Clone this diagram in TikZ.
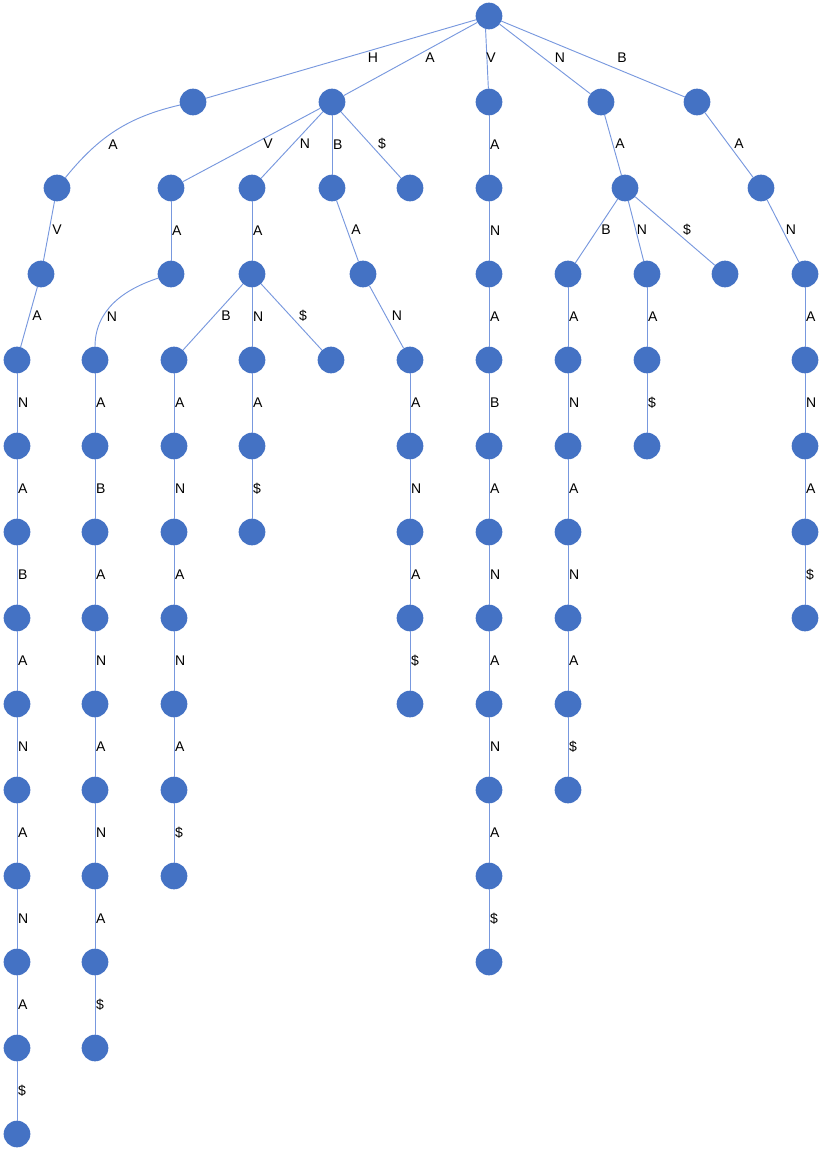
\documentclass[tikz,border=0pt]{standalone}
\usepackage{fontspec}
\newfontfamily\lblfont{Liberation Sans}
\usetikzlibrary{positioning}
\definecolor{vtxblue}{RGB}{68,114,196}
\definecolor{edgeblue}{RGB}{120,152,222}

\begin{document}
\begin{tikzpicture}[x=0.75pt,y=-0.75pt,
   vtx/.style={circle,fill=vtxblue,minimum size=20pt,inner sep=0pt,outer sep=0pt},
   edge/.style={draw=edgeblue,line width=0.7pt},
   lbl/.style={font=\lblfont\fontsize{10.5}{12}\selectfont,inner sep=0.5pt,anchor=west},
   tag/.style={lbl,anchor=center},
   node distance=44.5pt]

 \useasboundingbox (0,0) rectangle (820,1152);

 % root and first letters
 \node[vtx] (root) at (489,16) {};
 \node[vtx] (h) at (193,102) {};
 \node[vtx] (a) at (332,102) {};
 \node[vtx, alias=v0] (v) at (489,102) {};
 \node[vtx] (n) at (601,102) {};
 \node[vtx] (b) at (697,102) {};

 \draw[edge] (root) -- (h) node[tag] at (373,58) {H};
 \draw[edge] (root) -- (a) node[tag] at (430,58) {A};
 \draw[edge] (root.255) -- (v) node[tag] at (491,58) {V};
 \draw[edge] (root) -- (n) node[tag] at (560,58) {N};
 \draw[edge] (root) -- (b) node[tag] at (622,58) {B};

 % H branch
 \node[vtx] (h_a) at (57,188) {};
 \node[vtx] (h_a_v) at (41,274) {};
 \node[vtx, alias=hava0] (h_a_v_a) at (17,360) {};
 \draw[edge] (h) to[out=193,in=51] (h_a) node[tag] at (113,145) {A};
 \draw[edge] (h_a) -- (h_a_v) node[tag] at (57,230) {V};
 \draw[edge] (h_a_v) -- (h_a_v_a) node[tag] at (37,316) {A};

 % A branch
 \node[vtx] (a_v) at (171,188) {};
 \node[vtx, below=of a_v] (a_v_a) {};
 \node[vtx, alias=avan0] (a_v_a_n) at (95,360) {};
 \node[vtx] (a_n) at (252,188) {};
 \node[vtx, below=of a_n] (a_n_a) {};
 \node[vtx, alias=anab0] (a_n_a_b) at (174,360) {};
 \node[vtx, below=of a_n_a, alias=anan0] (a_n_a_n) {};
 \node[vtx] (a_n_a_d) at (331,360) {};
 \node[vtx, below=of a] (a_b) {};
 \node[vtx] (a_b_a) at (363,274) {};
 \node[vtx, alias=aban0] (a_b_a_n) at (410,360) {};
 \node[vtx] (a_d) at (410,188) {};

 \draw[edge] (a) -- (a_v) node[tag] at (268,144) {V};
 \draw[edge] (a) -- (a_n) node[tag] at (305,144) {N};
 \draw[edge] (a) -- node[lbl]{B} (a_b);
 \draw[edge] (a) -- (a_d) node[tag] at (382,144) {\$};
 \draw[edge] (a_v) -- node[lbl]{A} (a_v_a);
 \draw[edge] (a_v_a) to[out=198,in=90] (a_v_a_n) node[tag] at (112,317) {N};
 \draw[edge] (a_n) -- node[lbl]{A} (a_n_a);
 \draw[edge] (a_n_a) -- (a_n_a_b) node[tag] at (226,316) {B};
 \draw[edge] (a_n_a) -- node[lbl]{N} (a_n_a_n);
 \draw[edge] (a_n_a) -- (a_n_a_d) node[tag] at (303,316) {\$};
 \draw[edge] (a_b) -- (a_b_a) node[tag] at (356,230) {A};
 \draw[edge] (a_b_a) -- (a_b_a_n) node[tag] at (397,316) {N};

 % N branch
 \node[vtx] (n_a) at (625,188) {};
 \node[vtx, alias=nab0] (n_a_b) at (568,274) {};
 \node[vtx, alias=nan0] (n_a_n) at (647,274) {};
 \node[vtx] (n_a_d) at (725,274) {};
 \draw[edge] (n) -- (n_a) node[tag] at (620,144) {A};
 \draw[edge] (n_a) -- (n_a_b) node[tag] at (606,230) {B};
 \draw[edge] (n_a) -- (n_a_n) node[tag] at (642,230) {N};
 \draw[edge] (n_a) -- (n_a_d) node[tag] at (687,230) {\$};

 % B branch
 \node[vtx] (b_a) at (761,188) {};
 \node[vtx, alias=ban0] (b_a_n) at (805,274) {};
 \draw[edge] (b) -- (b_a) node[tag] at (739,144) {A};
 \draw[edge] (b_a) -- (b_a_n) node[tag] at (791,230) {N};

 % straight tails
 \foreach \c/\ls in {hava/{N,A,B,A,N,A,N,A,\$}, avan/{A,B,A,N,A,N,A,\$},
                    anab/{A,N,A,N,A,\$}, anan/{A,\$}, aban/{A,N,A,\$},
                    v/{A,N,A,B,A,N,A,N,A,\$}, nab/{A,N,A,N,A,\$},
                    nan/{A,\$}, ban/{A,N,A,\$}} {
   \foreach \l [count=\i, remember=\i as \j (initially 0)] in \ls {
     \node[vtx, below=of \c\j] (\c\i) {};
     \draw[edge] (\c\j) -- node[lbl]{\l} (\c\i);
   }
 }

\end{tikzpicture}
\end{document}
